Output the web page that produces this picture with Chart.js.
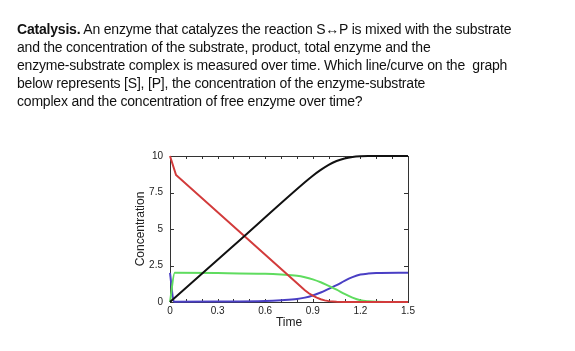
<!DOCTYPE html>
<html>
<head>
<meta charset="utf-8">
<script src="https://cdn.jsdelivr.net/npm/chart.js@4"></script>
<style>
  body { margin: 0; background: #fff; }
  #wrap { position: relative; width: 575px; height: 351px; }
  #question {
    position: absolute; left: 17px; top: 20px; width: 556px;
    font-family: "Liberation Sans", Arial, sans-serif; font-size: 14px;
    letter-spacing: -0.2px; line-height: 18px; color: #111;
  }
  canvas { position: absolute; left: 0; top: 0; }
</style>
</head>
<body>
<div id="wrap">
  <canvas id="chart" width="575" height="351"></canvas>
  <div id="question"><b>Catalysis.</b> An enzyme that catalyzes the reaction S↔P is mixed with the substrate<br>and the concentration of the substrate, product, total enzyme and the<br>enzyme-substrate complex is measured over time. Which line/curve on the &nbsp;graph<br>below represents [S], [P], the concentration of the enzyme-substrate<br>complex and the concentration of free enzyme over time?</div>
</div>
<script>
// values
const substrateT = [0, 0.038, 0.47, 0.75, 0.85, 0.875, 0.9, 0.925, 0.95, 0.975, 1.0, 1.05, 1.1, 1.2, 1.5];
const substrate  = [10, 8.7, 4.5, 1.78, 0.8, 0.6, 0.44, 0.3, 0.19, 0.11, 0.06, 0.02, 0.005, 0, 0];

const productT = [0, 0.4, 0.85, 0.9, 0.95, 1.0, 1.05, 1.1, 1.15, 1.2, 1.25, 1.5];
const product  = [0, 3.85, 8.2, 8.65, 9.05, 9.4, 9.66, 9.83, 9.93, 9.98, 10, 10];

const complexT = [0, 0.03, 0.3, 0.6, 0.7, 0.8, 0.85, 0.9, 0.95, 1.0, 1.05, 1.1, 1.15, 1.2, 1.25, 1.3, 1.5];
const complex  = [0, 2.0, 1.98, 1.93, 1.88, 1.8, 1.7, 1.55, 1.35, 1.1, 0.85, 0.55, 0.3, 0.12, 0.05, 0.02, 0];

const freeT = [0, 0.025, 0.3, 0.6, 0.7, 0.8, 0.85, 0.9, 0.95, 1.0, 1.05, 1.1, 1.15, 1.2, 1.25, 1.3, 1.5];
const free  = [2.0, 0.02, 0.03, 0.07, 0.12, 0.2, 0.3, 0.45, 0.65, 0.9, 1.15, 1.45, 1.7, 1.88, 1.95, 1.98, 2.0];

const xTicks = [0, 0.3, 0.6, 0.9, 1.2, 1.5];
const xMinorTicks = [0.1, 0.2, 0.3, 0.4, 0.5, 0.6, 0.7, 0.8, 0.9, 1.0, 1.1, 1.2, 1.3, 1.4];
const yTicks = [0, 2.5, 5, 7.5, 10];

const toPoints = (xs, ys) => xs.map((x, i) => ({ x: x, y: ys[i] }));

const FONT = "'Liberation Sans', Arial, sans-serif";
const INK = "#333";

const line = (data, color, smooth) => ({
    data: data,
    borderColor: color,
    borderWidth: 2,
    pointRadius: 0,
    tension: 0,
    cubicInterpolationMode: smooth ? "monotone" : "default",
    clip: false,
});

// box round the plot with inward ticks, as in the original
const frame = {
    id: "frame",
    beforeDatasetsDraw(chart) {
        const { ctx, chartArea: a, scales } = chart;
        ctx.save();
        ctx.strokeStyle = INK;
        ctx.lineWidth = 1;
        ctx.strokeRect(a.left + 0.5, a.top + 0.5, a.right - a.left, a.bottom - a.top);
        ctx.beginPath();
        for (const v of xMinorTicks) {
            const px = Math.round(scales.x.getPixelForValue(v)) + 0.5;
            ctx.moveTo(px, a.bottom); ctx.lineTo(px, a.bottom - 3);
            ctx.moveTo(px, a.top); ctx.lineTo(px, a.top + 3);
        }
        for (const v of yTicks.slice(1, -1)) {
            const py = Math.round(scales.y.getPixelForValue(v)) + 0.5;
            ctx.moveTo(a.left, py); ctx.lineTo(a.left + 4, py);
            ctx.moveTo(a.right, py); ctx.lineTo(a.right - 4, py);
        }
        ctx.stroke();
        ctx.restore();
    },
};

new Chart(document.getElementById("chart"), {
    type: "line",
    data: {
        datasets: [
            line(toPoints(productT, product), "#111111", true),
            line(toPoints(substrateT, substrate), "#d23b3b", false),
            line(toPoints(complexT, complex), "#5fdc5f", true),
            line(toPoints(freeT, free), "#4a3fc4", true),
        ],
    },
    options: {
        responsive: false,
        devicePixelRatio: 1,
        animation: false,
        layout: { padding: { left: 129, right: 167, top: 156, bottom: 17 } },
        plugins: { legend: { display: false }, tooltip: { enabled: false } },
        scales: {
            x: {
                type: "linear",
                min: 0,
                max: 1.5,
                afterBuildTicks: (axis) => { axis.ticks = xTicks.map((v) => ({ value: v })); },
                afterFit: (axis) => { axis.height = 32; },
                grid: { display: false, drawTicks: false },
                border: { display: false },
                ticks: {
                    padding: 3,
                    maxRotation: 0,
                    color: "#222",
                    font: { family: FONT, size: 10 },
                    callback: (v) => String(v),
                },
                title: { display: true, text: "Time", color: "#222", font: { family: FONT, size: 12 }, padding: 4 },
            },
            y: {
                min: 0,
                max: 10,
                afterBuildTicks: (axis) => { axis.ticks = yTicks.map((v) => ({ value: v })); },
                afterFit: (axis) => { axis.width = 41; },
                grid: { display: false, drawTicks: false },
                border: { display: false },
                ticks: {
                    padding: 7,
                    color: "#222",
                    font: { family: FONT, size: 10 },
                    callback: (v) => String(v),
                },
                title: { display: true, text: "Concentration", color: "#222", font: { family: FONT, size: 12 }, padding: 4 },
            },
        },
    },
    plugins: [frame],
});
</script>
</body>
</html>
